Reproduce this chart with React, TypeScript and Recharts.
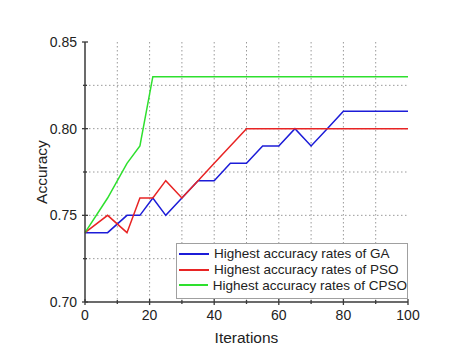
import { CartesianGrid, Legend, Line, LineChart, XAxis, YAxis } from 'recharts'

const iterations = [0, 7, 13, 17, 21, 25, 30, 35, 40, 45, 50, 55, 60, 65, 70, 75, 80, 100]
const gaRates = [0.74, 0.74, 0.75, 0.75, 0.76, 0.75, 0.76, 0.77, 0.77, 0.78, 0.78, 0.79, 0.79, 0.8, 0.79, 0.8, 0.81, 0.81]
const psoRates = [0.74, 0.75, 0.74, 0.76, 0.76, 0.77, 0.76, 0.77, 0.78, 0.79, 0.8, 0.8, 0.8, 0.8, 0.8, 0.8, 0.8, 0.8]
const cpsoRates = [0.74, 0.76, 0.78, 0.79, 0.83, 0.83, 0.83, 0.83, 0.83, 0.83, 0.83, 0.83, 0.83, 0.83, 0.83, 0.83, 0.83, 0.83]

const xTicks = [0, 10, 20, 30, 40, 50, 60, 70, 80, 90, 100]
const yTicks = [0.7, 0.725, 0.75, 0.775, 0.8, 0.825, 0.85]
const xGrid = [10, 20, 30, 40, 50, 60, 70, 80, 90]
const yGrid = [0.725, 0.75, 0.775, 0.8, 0.825]

const series = [
  { key: 'ga', name: 'Highest accuracy rates of GA', color: '#1c1cd8' },
  { key: 'pso', name: 'Highest accuracy rates of PSO', color: '#e82424' },
  { key: 'cpso', name: 'Highest accuracy rates of CPSO', color: '#2ee02e' },
]

const data = iterations.map((it, i) => ({
  it,
  ga: gaRates[i],
  pso: psoRates[i],
  cpso: cpsoRates[i],
}))

const font = "'Liberation Sans', Arial, sans-serif"
const axisColor = '#3a3a3a'

function XTick(props: any) {
  const { x, y, payload } = props
  const major = payload.value % 20 === 0
  const h = major ? 3 : 2
  return (
    <g>
      <line x1={x} x2={x} y1={y - h} y2={y + h} stroke={axisColor} strokeWidth={1.3} />
      {major && (
        <text x={x} y={y + 18} textAnchor='middle' fontSize={14} fontFamily={font} fill='#222'>
          {payload.value}
        </text>
      )}
    </g>
  )
}

function YTick(props: any) {
  const { x, y, payload } = props
  const major = Math.round(payload.value * 1000) % 50 === 0
  const w = major ? 3 : 2
  return (
    <g>
      <line x1={x - w} x2={x + w} y1={y} y2={y} stroke={axisColor} strokeWidth={1.3} />
      {major && (
        <text x={x - 8} y={y + 5} textAnchor='end' fontSize={14} fontFamily={font} fill='#222'>
          {payload.value.toFixed(2)}
        </text>
      )}
    </g>
  )
}

function LegendBox() {
  return (
    <div
      style={{
        border: '1px solid #a0a0a0',
        background: '#fff',
        width: 230,
        height: 52,
        boxSizing: 'content-box',
        fontFamily: font,
        fontSize: 13.5,
        color: '#222',
        paddingTop: 2,
      }}
    >
      {series.map((s) => (
        <div key={s.key} style={{ display: 'flex', alignItems: 'center', height: 15.7, whiteSpace: 'nowrap' }}>
          <span style={{ display: 'inline-block', width: 30, height: 2, background: s.color, marginLeft: 2, marginRight: 5 }} />
          <span>{s.name}</span>
        </div>
      ))}
    </div>
  )
}

export default function App() {
  return (
    <div style={{ position: 'absolute', left: 0, top: 0, background: '#fff' }}>
      <LineChart width={474} height={362} data={data} margin={{ top: 42, right: 66, bottom: 0, left: 0 }}>
        <CartesianGrid
          stroke='#9a9a9a'
          strokeDasharray='1.5 2.5'
          verticalValues={xGrid}
          horizontalValues={yGrid}
        />
        <XAxis
          dataKey='it'
          type='number'
          domain={[0, 100]}
          ticks={xTicks}
          interval={0}
          height={60}
          tickSize={0}
          tickMargin={0}
          tickLine={false}
          stroke={axisColor}
          strokeWidth={1.5}
          tick={XTick}
          label={{
            content: (p: any) => {
              const vb = p.viewBox
              return (
                <text x={vb.x + vb.width / 2} y={vb.y + 41} textAnchor='middle' fontSize={15.5} fontFamily={font} fill='#222'>
                  Iterations
                </text>
              )
            },
          }}
        />
        <YAxis
          type='number'
          domain={[0.7, 0.85]}
          ticks={yTicks}
          interval={0}
          width={85}
          tickSize={0}
          tickMargin={0}
          tickLine={false}
          stroke={axisColor}
          strokeWidth={1.5}
          tick={YTick}
          label={{
            content: (p: any) => {
              const vb = p.viewBox
              const cy = vb.y + vb.height / 2
              return (
                <text x={47} y={cy} transform={`rotate(-90 47 ${cy})`} textAnchor='middle' fontSize={15.5} fontFamily={font} fill='#222'>
                  Accuracy
                </text>
              )
            },
          }}
        />
        <Legend
          content={LegendBox}
          layout='vertical'
          align='center'
          verticalAlign='middle'
          wrapperStyle={{ position: 'absolute', left: 176, top: 243, width: 'auto' }}
        />
        {series.map((s) => (
          <Line
            key={s.key}
            dataKey={s.key}
            name={s.name}
            stroke={s.color}
            strokeWidth={1.5}
            dot={false}
            type='linear'
            isAnimationActive={false}
          />
        ))}
      </LineChart>
    </div>
  )
}
